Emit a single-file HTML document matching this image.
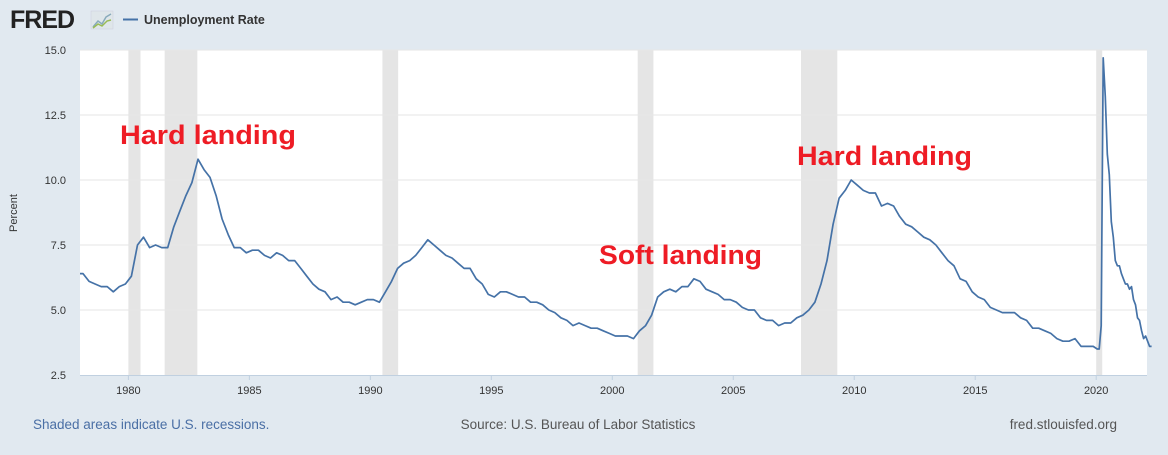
<!DOCTYPE html>
<html><head><meta charset="utf-8"><style>
body{margin:0;background:#e1e9f0;width:1168px;height:450px;overflow:hidden;font-family:"Liberation Sans",sans-serif}
</style></head><body>
<svg width="1168" height="450" xmlns="http://www.w3.org/2000/svg" font-family="Liberation Sans, sans-serif">
<rect width="1168" height="450" fill="#e1e9f0"/>
<g>
<text x="10" y="28" font-size="25" font-weight="bold" fill="#222" letter-spacing="-1">FRED</text>
<rect x="91" y="11" width="22" height="18" fill="#dfe6ea" stroke="#ccd" stroke-width="0.5"/>
<polyline points="93,27 98,21 102,24 106,17 111,14" fill="none" stroke="#8ab" stroke-width="1.5"/>
<polyline points="93,28 98,24 102,26 107,21 111,20" fill="none" stroke="#9b5" stroke-width="1.5"/>
</g>
<g>
<line x1="123" y1="19.5" x2="138" y2="19.5" stroke="#4572a7" stroke-width="2"/>
<text x="144" y="24" font-size="12.5" font-weight="bold" fill="#333">Unemployment Rate</text>
</g>
<rect x="80" y="50" width="1067" height="325" fill="#fff"/>
<g id="rec"></g><g id="grid"></g><g id="axes"></g>
<path id="line" fill="none" stroke="#4572a7" stroke-width="1.7" stroke-linejoin="round"/>
<text x="17" y="213" font-size="11" fill="#333" transform="rotate(-90 17 213)" text-anchor="middle">Percent</text>
<g font-weight="bold" fill="#ee1c25" font-size="27">
<text x="120" y="144" textLength="176" lengthAdjust="spacingAndGlyphs">Hard landing</text>
<text x="599" y="264" textLength="163" lengthAdjust="spacingAndGlyphs">Soft landing</text>
<text x="797" y="165" textLength="175" lengthAdjust="spacingAndGlyphs">Hard landing</text>
</g>
<text x="33" y="429" font-size="13.5" fill="#4a6fa5">Shaded areas indicate U.S. recessions.</text>
<text x="578" y="429" font-size="13.5" fill="#555" text-anchor="middle">Source: U.S. Bureau of Labor Statistics</text>
<text x="1117" y="429" font-size="13.5" fill="#555" text-anchor="end">fred.stlouisfed.org</text>
</svg>
<script>
const quarterlyValues=[6.4,6.1,6.0,5.9, 5.9,5.7,5.9,6.0, 6.3,7.5,7.8,7.4, 7.5,7.4,7.4,8.2, 8.8,9.4,9.9,10.8, 10.4,10.1,9.4,8.5, 7.9,7.4,7.4,7.2, 7.3,7.3,7.1,7.0, 7.2,7.1,6.9,6.9, 6.6,6.3,6.0,5.8, 5.7,5.4,5.5,5.3, 5.3,5.2,5.3,5.4, 5.4,5.3,5.7,6.1, 6.6,6.8,6.9,7.1, 7.4,7.7,7.5,7.3, 7.1,7.0,6.8,6.6, 6.6,6.2,6.0,5.6, 5.5,5.7,5.7,5.6, 5.5,5.5,5.3,5.3, 5.2,5.0,4.9,4.7, 4.6,4.4,4.5,4.4, 4.3,4.3,4.2,4.1, 4.0,4.0,4.0,3.9, 4.2,4.4,4.8,5.5, 5.7,5.8,5.7,5.9, 5.9,6.2,6.1,5.8, 5.7,5.6,5.4,5.4, 5.3,5.1,5.0,5.0, 4.7,4.6,4.6,4.4, 4.5,4.5,4.7,4.8, 5.0,5.3,6.0,6.9, 8.3,9.3,9.6,10.0, 9.8,9.6,9.5,9.5, 9.0,9.1,9.0,8.6, 8.3,8.2,8.0,7.8, 7.7,7.5,7.2,6.9, 6.7,6.2,6.1,5.7, 5.5,5.4,5.1,5.0, 4.9,4.9,4.9,4.7, 4.6,4.3,4.3,4.2, 4.1,3.9,3.8,3.8, 3.9,3.6,3.6,3.6];
const monthlyValues=[3.5,3.5,4.4,14.7,13.2,11.0,10.2,8.4,7.8,6.9,6.7,6.7, 6.4,6.2,6.0,6.0,5.8,5.9,5.4,5.2,4.7,4.6,4.2,3.9, 4.0,3.8,3.6,3.6];
const recessions=[[1980.0,1980.5],[1981.5,1982.85],[1990.5,1991.15],[2001.05,2001.7],[2007.8,2009.3],[2020.0,2020.25]];
const yTicks=[2.5,5.0,7.5,10.0,12.5,15.0];
const xTicks=[1980,1985,1990,1995,2000,2005,2010,2015,2020];
const X0=80,X1=1147,Y0=50,Y1=375,D0=1978.0,D1=2022.1;
const xs=d=>X0+(d-D0)/(D1-D0)*(X1-X0);
const ys=v=>Y1-(v-2.5)/12.5*(Y1-Y0);
const NS='http://www.w3.org/2000/svg';
function mk(tag,attrs,parent){const e=document.createElementNS(NS,tag);for(const k in attrs)e.setAttribute(k,attrs[k]);document.getElementById(parent).appendChild(e);return e;}
recessions.forEach(r=>{const e=mk('rect',{x:xs(r[0]),y:Y0,width:xs(r[1])-xs(r[0]),height:Y1-Y0,fill:'#e5e5e5'},'rec');

});
yTicks.forEach(v=>{if(v>2.5){const l=mk('line',{x1:X0,x2:X1,y1:ys(v),y2:ys(v),stroke:'#e6e6e6','stroke-width':1},'grid');

}
const t=mk('text',{x:66,y:ys(v)+4,'font-size':11,fill:'#333','text-anchor':'end'},'axes');t.textContent=v.toFixed(1);

});
const ax=mk('line',{x1:X0,x2:X1,y1:Y1+0.5,y2:Y1+0.5,stroke:'#c0d0e0','stroke-width':1},'axes');


xTicks.forEach(y=>{const t=mk('text',{x:xs(y),y:394,'font-size':11,fill:'#333','text-anchor':'middle'},'axes');t.textContent=y;


const tk=mk('line',{x1:xs(y),x2:xs(y),y1:Y1,y2:Y1+5,stroke:'#c0d0e0'},'axes');

});
let pts=[];
quarterlyValues.forEach((v,i)=>pts.push([1978+i/4+0.125,v]));
monthlyValues.forEach((v,i)=>pts.push([2020+i/12+1/24,v]));
pts.unshift([D0,quarterlyValues[0]]);
document.getElementById('line').setAttribute('d',pts.map((p,i)=>(i?'L':'M')+xs(p[0]).toFixed(1)+','+ys(p[1]).toFixed(1)).join(''));
</script>
</body></html>
